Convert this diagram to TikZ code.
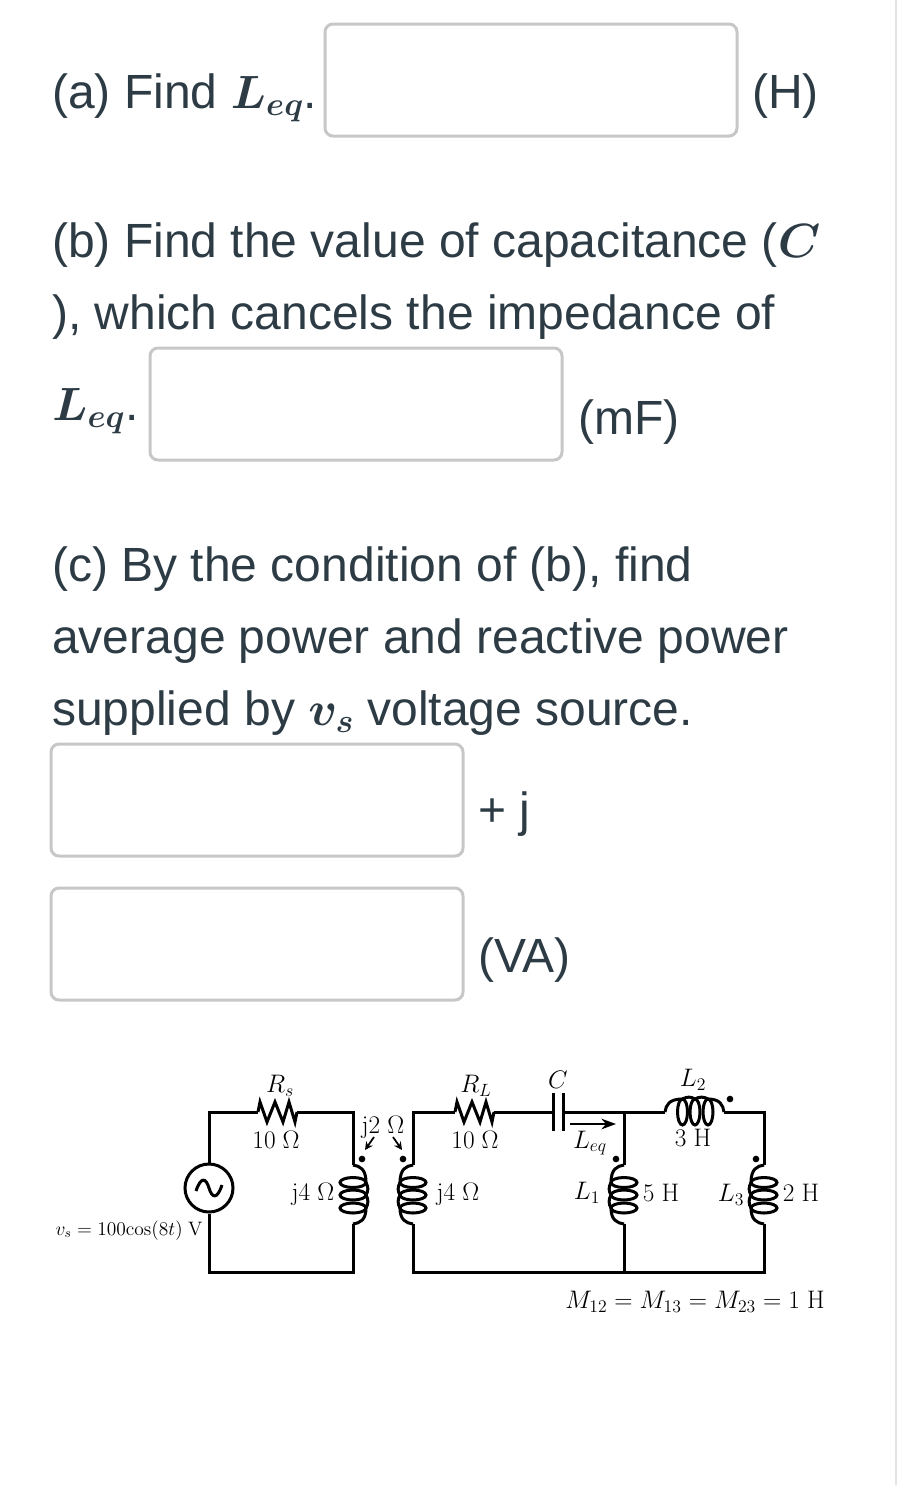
\documentclass[tikz,border=0pt]{standalone}
\usepackage{fix-cm}
\usepackage[no-math]{fontspec}
\setmainfont{Liberation Sans}
\usepackage{tikz}
\usetikzlibrary{arrows.meta}
\definecolor{inktext}{HTML}{2D3B45}
\definecolor{boxline}{HTML}{C7C7C7}
\definecolor{sideline}{HTML}{E4E4E4}
\tikzset{
    wire/.style={line width=2.25pt, line join=miter},
    thin wire/.style={line width=1.3pt, -{Stealth[length=6pt,width=6pt]}},
    answer/.style={draw=boxline, line width=2.25pt, rounded corners=6pt},
    prose/.style={anchor=base west, inner sep=0pt, text=inktext, font=\fontsize{36}{42}\selectfont},
    label/.style={inner sep=0pt, font=\fontsize{19}{23}\selectfont},
    dot/.style={circle, fill, inner sep=0pt, minimum size=5pt},
    coil/.pic={
        \draw[wire] (0,0) .. controls (7,-1) and (13,-4) .. (13,-17.5)
            .. controls (15.5,-22) and (15.5,-26) .. (13,-30)
            .. controls (15.5,-34) and (15.5,-39) .. (13,-43)
            .. controls (13,-55) and (7,-58) .. (0,-59);
        \draw[wire] (0,-17.5) ellipse (13 and 5);
        \draw[wire] (0,-30) ellipse (13 and 5);
        \draw[wire] (0,-43) ellipse (13 and 5);
    },
    resistor/.pic={
        \draw[wire] (0,0) -- (2,10) -- (9,-10) -- (17,10) -- (25,-10) -- (31,10) -- (37,-10) -- (39,0);
    },
    sinewave/.pic={
        \draw[wire] (-13,-3) .. controls (-8,12) and (-3,10) .. (0,0) .. controls (3,-10) and (8,-12) .. (13,3);
    }
}
\newcommand{\Leq}{{\fontsize{35}{35}\selectfont\boldmath$L_{eq}$}}
\begin{document}
\begin{tikzpicture}[x=0.75pt, y=0.75pt]
    \useasboundingbox (0,0) rectangle (897,-1485);
    \draw[sideline, line width=1.5pt] (896,0) -- (896,-1485);

    % question text
    \node[prose] (parta) at (52,-108) {(a) Find \Leq.};
    \node[prose] (unita) at (752,-108) {(H)};
    \node[prose] (partb) at (52,-257) {(b) Find the value of capacitance ({\boldmath$C$}};
    \node[prose] (partbb) at (52,-329) {), which cancels the impedance of};
    \node[prose] (partbc) at (52,-420) {\Leq.};
    \node[prose] (unitb) at (578,-434) {(mF)};
    \node[prose] (partc) at (52,-581) {(c) By the condition of (b), find};
    \node[prose] (partcb) at (52,-653) {average power and reactive power};
    \node[prose] (partcc) at (52,-725) {supplied by {\boldmath$v_s$} voltage source.};
    \node[prose] (plusj) at (478,-826) {+ j};
    \node[prose] (unitc) at (478,-972) {(VA)};

    % answer boxes
    \draw[answer] (325,-24) rectangle (737,-136);
    \draw[answer] (150,-348) rectangle (562,-460);
    \draw[answer] (51,-744) rectangle (463,-856);
    \draw[answer] (51,-888) rectangle (463,-1000);

    % corners of the two loops
    \coordinate (tl) at (209,-1112);
    \coordinate (bl) at (209,-1272);
    \coordinate (tm) at (353,-1112);
    \coordinate (bm) at (353,-1272);
    \coordinate (tn) at (413,-1112);
    \coordinate (bn) at (413,-1272);
    \coordinate (tj) at (624,-1112);
    \coordinate (bj) at (624,-1272);
    \coordinate (tr) at (764,-1112);
    \coordinate (br) at (764,-1272);

    % parts
    \node[circle, draw, line width=2.25pt, minimum size=36pt, inner sep=0pt] (src) at (209,-1188) {};
    \pic at (src) {sinewave};
    \coordinate (rsa) at (258,-1112);
    \coordinate (rsb) at (297,-1112);
    \pic at (rsa) {resistor};
    \coordinate (rla) at (455,-1112);
    \coordinate (rlb) at (494,-1112);
    \pic at (rla) {resistor};
    \coordinate (capa) at (553,-1112);
    \coordinate (capb) at (563,-1112);
    \coordinate (capat) at (553,-1093);
    \coordinate (capab) at (553,-1131);
    \coordinate (capbt) at (563,-1093);
    \coordinate (capbb) at (563,-1131);
    \draw[wire] (capat) -- (capab);
    \draw[wire] (capbt) -- (capbb);
    \coordinate (lpa) at (353,-1165);
    \coordinate (lpb) at (353,-1224);
    \pic at (lpa) {coil};
    \coordinate (lsa) at (413,-1165);
    \coordinate (lsb) at (413,-1224);
    \pic[xscale=-1] at (lsa) {coil};
    \coordinate (loa) at (624,-1165);
    \coordinate (lob) at (624,-1224);
    \pic[xscale=-1] at (loa) {coil};
    \coordinate (lta) at (764,-1165);
    \coordinate (ltb) at (764,-1224);
    \pic[xscale=-1] at (lta) {coil};
    \coordinate (lma) at (665,-1112);
    \coordinate (lmb) at (724,-1112);
    \pic[rotate=90] at (lma) {coil};

    % wires
    \draw[wire] (src) -- (tl) -- (rsa);
    \draw[wire] (rsb) -- (tm) -- (lpa);
    \draw[wire] (lpb) -- (bm) -- (bl) -- (src);
    \draw[wire] (lsa) -- (tn) -- (rla);
    \draw[wire] (rlb) -- (capa);
    \draw[wire] (capb) -- (tj) -- (lma);
    \draw[wire] (lmb) -- (tr) -- (lta);
    \draw[wire] (ltb) -- (br) -- (bn) -- (lsb);
    \draw[wire] (tj) -- (loa);
    \draw[wire] (lob) -- (bj);

    % dots and arrows
    \node[dot] (dota) at (362,-1159) {};
    \node[dot] (dotb) at (403,-1159) {};
    \node[dot] (dotc) at (616,-1159) {};
    \node[dot] (dotd) at (756,-1159) {};
    \node[dot] (dote) at (730,-1099) {};
    \coordinate (arra) at (374,-1137);
    \coordinate (arrb) at (393,-1137);
    \coordinate (arrc) at (365,-1150);
    \coordinate (arrd) at (402,-1150);
    \draw[thin wire] (arra) -- (arrc);
    \draw[thin wire] (arrb) -- (arrd);
    \coordinate (leqa) at (570,-1124);
    \coordinate (leqb) at (616,-1124);
    \draw[line width=1.6pt, -{Stealth[length=11pt,width=8pt]}] (leqa) -- (leqb);

    % labels
    \node[label] (lbrs) at (280,-1086) {$R_s$};
    \node[label] (lbra) at (276,-1140) {$10~\Omega$};
    \node[label, font=\fontsize{14.6}{18}\selectfont, anchor=base east] (lbvs) at (203,-1235) {$v_s=100\mathrm{cos}(8t)~\mathrm{V}$};
    \node[label] (lbj) at (383,-1127) {$\mathrm{j}2~\Omega$};
    \node[label] (lbpa) at (313,-1194) {$\mathrm{j}4~\Omega$};
    \node[label] (lbpb) at (458,-1194) {$\mathrm{j}4~\Omega$};
    \node[label] (lbrl) at (476,-1086) {$R_L$};
    \node[label] (lbrb) at (475,-1140) {$10~\Omega$};
    \node[label] (lbc) at (558,-1080) {$C$};
    \node[label] (lbeq) at (590,-1143) {$L_{eq}$};
    \node[label] (lbl2) at (693,-1080) {$L_2$};
    \node[label] (lb3h) at (693,-1138) {$3~\mathrm{H}$};
    \node[label] (lbl1) at (587,-1193) {$L_1$};
    \node[label] (lb5h) at (661,-1193) {$5~\mathrm{H}$};
    \node[label] (lbl3) at (731,-1195) {$L_3$};
    \node[label] (lb2h) at (801,-1193) {$2~\mathrm{H}$};
    \node[label] (lbm) at (695,-1302) {$M_{12}=M_{13}=M_{23}=1~\mathrm{H}$};
\end{tikzpicture}
\end{document}
